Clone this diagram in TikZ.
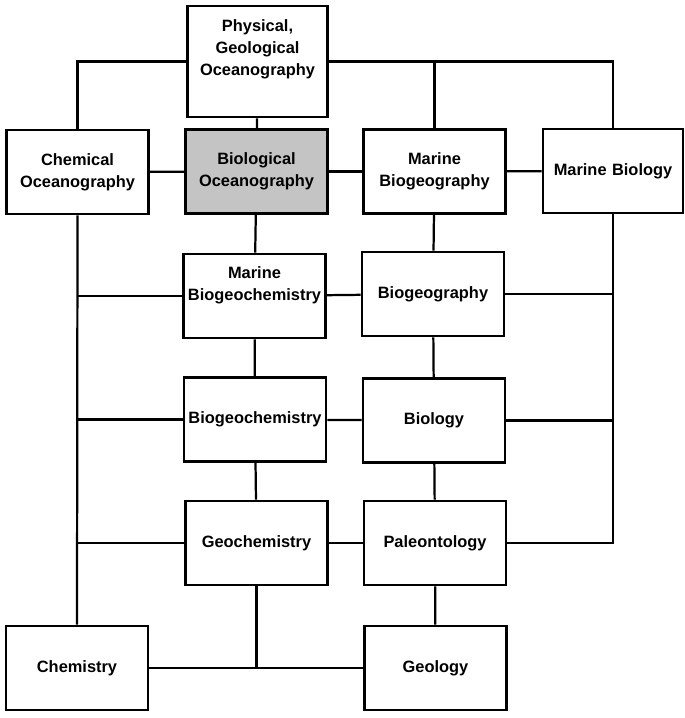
\documentclass[tikz,border=0pt]{standalone}
\usepackage{fontspec}
\setmainfont{Liberation Sans}
\usepackage{xcolor}
\usepackage{tikz}
\definecolor{highlight}{HTML}{C4C4C4}

\begin{document}
\begin{tikzpicture}[
    x=0.03cm, y=-0.03cm,
    field/.style={rectangle, draw, line width=2.2pt,
                  fill=white,
                  text width=4.2cm,
                  align=center,
                  inner sep=0pt,
                  minimum width=4.26cm,
                  minimum height=2.52cm,
                  font=\fontsize{14}{19}\selectfont\bfseries},
    link/.style={line width=1.9pt}
]
\useasboundingbox (0,0) rectangle (685,718);

\node[field, minimum width=4.17cm, minimum height=3.33cm, text depth=2.16cm] (phys) at (257.5,61.5) {Physical,\\Geological\\Oceanography};
\node[field] (chemoc) at (77.5,172) {Chemical\\Oceanography};
\node[field, fill=highlight] (biooc) at (256.5,171.5) {Biological\\Oceanography};
\node[field] (mbiogeo) at (434.5,171.5) {Marine\\Biogeography};
\node[field, minimum width=4.2cm] (mbio) at (613,171) {Marine Biology};
\node[field, text depth=1.4cm] (mbgc) at (254.5,296) {Marine\\Biogeochemistry};
\node[field] (biogeo) at (433,294) {Biogeography};
\node[field] (bgc) at (255,419.5) {Biogeochemistry};
\node[field] (biol) at (434,420.5) {Biology};
\node[field] (geoch) at (256.5,543) {Geochemistry};
\node[field] (paleo) at (435,543) {Paleontology};
\node[field] (chem) at (77,668) {Chemistry};
\node[field] (geol) at (435.5,668) {Geology};

% top row
\draw[link] (phys.west) -| (chemoc.north);
\draw[link] (phys.east) -| (mbio.north);
\draw[link] (mbiogeo.north) -- (mbiogeo.north |- phys.east);
\draw[link] (phys) -- (biooc);
\draw[link] (chemoc) -- (biooc);
\draw[link] (biooc) -- (mbiogeo);
\draw[link] (mbiogeo) -- (mbio);

% left spine
\draw[link] (chemoc.south) -- (chem.north);
\draw[link] (mbgc.west) -- (mbgc.west -| chemoc.south);
\draw[link] (bgc.west) -- (bgc.west -| chemoc.south);
\draw[link] (geoch.west) -- (geoch.west -| chemoc.south);

% right spine
\draw[link] (mbio.south) |- (paleo.east);
\draw[link] (biogeo.east) -- (biogeo.east -| mbio.south);
\draw[link] (biol.east) -- (biol.east -| mbio.south);

% middle grid
\draw[link] (biooc) -- (mbgc);
\draw[link] (mbiogeo) -- (biogeo);
\draw[link] (mbgc) -- (biogeo);
\draw[link] (mbgc) -- (bgc);
\draw[link] (biogeo) -- (biol);
\draw[link] (bgc) -- (biol);
\draw[link] (bgc) -- (geoch);
\draw[link] (biol) -- (paleo);
\draw[link] (geoch) -- (paleo);
\draw[link] (paleo) -- (geol);

% bottom row
\draw[link] (chem) -- (geol);
\draw[link] (geoch.south) -- (geoch.south |- chem.east);
\end{tikzpicture}
\end{document}
